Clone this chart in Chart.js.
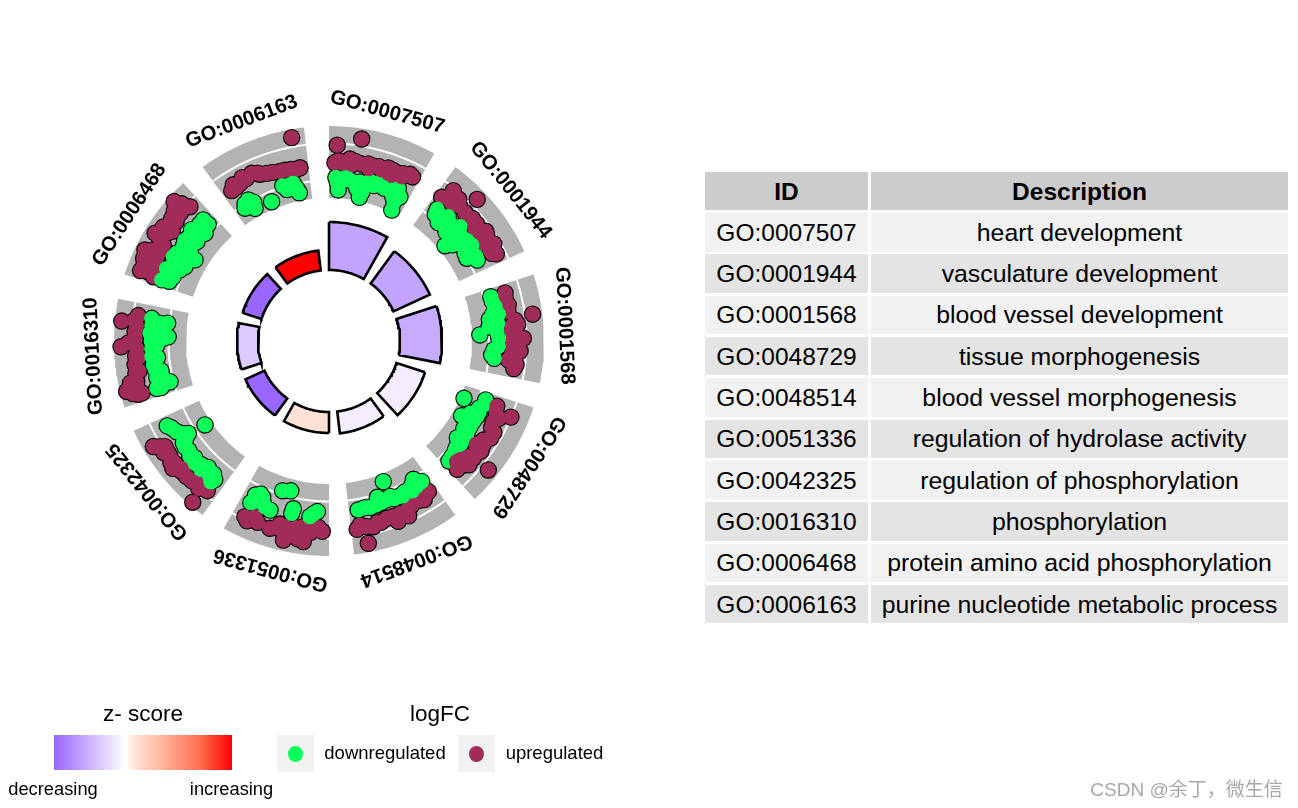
<!DOCTYPE html>
<html><head><meta charset="utf-8">
<script src="https://cdn.jsdelivr.net/npm/chart.js@4"></script>
<style>
html,body{margin:0;padding:0;background:#fff;width:1298px;height:808px;overflow:hidden;font-family:"Liberation Sans",Arial,sans-serif;color:#000}
#c{position:absolute;left:0;top:0}
.t{position:absolute;white-space:nowrap;line-height:1;transform:translate(-50%,-50%)}
.cell{position:absolute;display:flex;align-items:center;justify-content:center;font-size:24.5px;white-space:nowrap;padding-top:1px;box-sizing:border-box}
.key{position:absolute;background:#f2f2f2;width:37px;height:37px;top:735px}
.dot{position:absolute;left:11px;top:11px;width:15px;height:16px;border-radius:50%}
</style></head><body>
<canvas id="c" width="1298" height="808"></canvas>
<div id="overlay"></div>
<script>
const goIds=["GO:0007507","GO:0001944","GO:0001568","GO:0048729","GO:0048514","GO:0051336","GO:0042325","GO:0016310","GO:0006468","GO:0006163"];
const descriptions=["heart development","vasculature development","blood vessel development","tissue morphogenesis","blood vessel morphogenesis","regulation of hydrolase activity","regulation of phosphorylation","phosphorylation","protein amino acid phosphorylation","purine nucleotide metabolic process"];
const geneCounts=[48,40,42,30,22,21,21,21,20,20];
const zScores=[-0.6,-0.6,-0.55,-0.12,-0.12,0.25,-1,-0.35,-1,1];
// [degrees into the sector, logFC]
const up1=[[9.2,1.59],[2.4,1.11],[1.9,.13],[4.6,.13],[6.6,.40],[10.5,.22],[14.2,.25],[17.1,.17],[18.9,.39],[22.4,.30],[25.9,.52],[3,.25],[8.5,.3],[12.5,.3],[16,.3],[20.5,.35],[24,.4],[27,.45],[13,.05],[19.5,.1],[7.5,.1],[20.7,.08],[24,.2]];
const down1=[[2.4,-.68],[3.5,-1.37],[7.4,-.76],[11.9,-1.62],[11,-.78],[14.4,-.61],[17.8,-.5],[22.5,-.69],[26.2,-.86],[25.6,-1.71],[10.3,-1.17],[24.4,-.46],[5,-.8],[9,-.85],[13,-.85],[16,-.8],[20,-.75],[3,-.95],[12.5,-1.3],[23.8,-1],[25,-1.25],[19,-.7],[6,-.6]];
const up2=[[3.6,1.06],[2.1,.37],[10.3,1.61],[10.7,.61],[5.7,.47],[15.6,.69],[20.1,.78],[25.7,.49],[21.7,.37],[22.9,.56],[17.7,.63],[6.5,.9],[8,.65],[12.5,.5],[13.5,.7],[16.5,.45],[19,.5],[19,.85],[23.5,.85],[24.5,.5],[26.5,.7],[4,.75]];
const down2=[[3.4,-.31],[6.7,-.83],[14.6,-1.44],[21.2,-.79],[25.4,-.39],[12.7,-.58],[12.9,-.12],[20.1,-.22],[7.8,-.21],[9.4,-.73],[17.6,-.62],[5,-.5],[8,-.5],[10.5,-.4],[11,-.9],[13,-.85],[15,-.8],[16,-.4],[18,-.3],[19,-.65],[23,-.55],[24,-.35],[23,-.85],[16,-1.1],[4,-.6]];
const up3=[[2.7,.36],[6.6,.38],[10.5,1.63],[11.6,.62],[15.1,.39],[17.2,1.02],[20.3,.47],[25.3,.70],[24,.24],[4.5,.3],[8.5,.3],[13.5,.4],[13,.75],[16,.6],[19,.6],[22,.4],[21,.85],[23,.6],[26.5,.6],[18.5,.3]];
const down3=[[2.7,-.46],[6.3,-.36],[10.3,-.79],[15.7,-1.39],[14.8,-.44],[19.9,-.37],[22.9,-.71],[12.4,-.61],[4.5,-.45],[8.5,-.55],[9,-.25],[12,-.35],[17,-.35],[21,-.6],[24,-.55],[13,-.85]];
const up4=[[21,1.61],[4.7,1.18],[3.2,.22],[8.2,.39],[14.7,.41],[19.6,.46],[24.7,.38],[25.4,-.02],[21.7,.28],[5,.3],[6.5,.6],[10,.45],[11,.7],[13,.7],[16,.55],[17,.2],[18,.65],[21,.55],[23.5,.6],[27,.3],[24,.05]];
const down4=[[5,-1.63],[2.6,-.48],[11.4,-1.32],[7.2,-.55],[13.3,-.61],[18.3,-.64],[21.6,-.57],[25.3,-.41],[16.3,-.52],[4,-.4],[6,-.65],[9,-.55],[11,-.6],[15,-.6],[17.5,-.45],[20,-.5],[23,-.5],[27,-.35],[12,-.85],[15,-.85],[19,-.85],[9,-.95]];
const up5=[[25,1.67],[2.6,.25],[26.4,.59],[22.6,.83],[18,.58],[13.6,.58],[9.2,.43],[24.5,.75],[5,.5],[6.5,.4],[11,.55],[16,.6],[20,.7],[15,.95],[27.5,.8],[21,.65],[11.5,.9]];
const down5=[[26.2,-.25],[14.9,-1.4],[18.8,-.69],[12,-.31],[16.1,-.39],[8,-.4],[4.6,-.78],[2.6,-.42],[3.5,-.5],[6,-.55],[9.5,-.4],[10.5,-.25],[13.5,-.3],[14.5,-.5],[18,-.35],[20,-.3],[22,-.25],[24,-.3],[5,-.35],[7,-.25]];
const up6=[[25.6,1.04],[22.8,.81],[17.5,1.13],[12.9,1.57],[13.3,.82],[7.3,1.46],[7.9,.64],[3.3,.59],[24.5,1.2],[21.5,1.05],[15,1],[15,.75],[11,1],[9,1.35],[10,.75],[5.5,.9],[5.5,.6],[2,.8],[8,1],[12,1.3]];
const down6=[[17.2,-1.07],[14.3,-1.19],[25.8,.2],[24,-.47],[19.2,.17],[12.2,.02],[3.9,-.28],[6.2,.04],[24.5,0],[22,-.05],[21,.1],[25.5,-.3],[23,-.35],[12,-.25],[5,-.15]];
const up7=[[4.2,1.95],[3.1,.94],[6.6,.96],[12.4,1.16],[14.8,1.42],[18,1.14],[21.2,1.06],[23,1.61],[5.5,1.15],[8.5,1.1],[10.5,1.15],[13,1],[15.5,1.15],[16.5,1.3],[19.5,1.1],[20,1.3],[22,1.3]];
const down7=[[19.9,-1.46],[26.3,.37],[23.2,.07],[20.7,-.43],[17.7,.15],[11.6,.3],[7.7,-.07],[4,.43],[25,.2],[22,-.1],[19.5,-.1],[19,.1],[16,.1],[14.5,.25],[13,.1],[10,.1],[9,.3],[6,.2],[5,0],[3.5,.2]];
const up8=[[23.5,1.79],[25.6,.91],[20.7,1.01],[16.4,1.78],[15.8,.91],[11,1.08],[4,1.81],[2.4,1.22],[6,1.14],[24,1.1],[22.5,.95],[18.5,1],[17.5,1.35],[13.5,1],[8.5,1.1],[9,.9],[4.5,1.2],[3,1.5],[6,1.5],[19,1],[13,.85],[2.5,1]];
const down8=[[25.3,.15],[24.3,-.76],[20.5,.18],[19.5,-.84],[15.6,.08],[10.2,.07],[6.5,-.29],[3.6,-.66],[2.6,.15],[22,-.37],[23,.1],[22,-.2],[24,-.3],[21,-.6],[18,.1],[18.5,-.3],[19,-.6],[16.5,-.2],[13,.1],[8.5,0],[8,-.3],[6,0],[5,-.3],[4,-.55],[3,-.2],[2.5,-.1],[12.5,-.2]];
const up9=[[24,1.8],[26,.96],[18.5,1.21],[13.8,1.59],[8.3,1.63],[3.8,1.33],[2.1,.61],[10.5,.8],[22.6,1.11],[24,1.2],[22,1.45],[20,1.3],[20,1],[16.5,1.4],[16,1],[13,1.2],[12,.85],[9,1.3],[6,1.5],[6,1.05],[5,.8],[3,1],[2.5,1.4],[25,1.4],[8,.85],[17,.85]];
const down9=[[25.9,-.08],[23,-.66],[13.2,-1.08],[17,0],[10.4,.06],[4.4,-.42],[2.1,.11],[9.3,-.78],[26,-.45],[24,-.1],[21,.05],[21,-.4],[19,-.6],[18.5,-.1],[15.5,-.1],[15,-.6],[12.5,-.5],[12,0],[8,-.2],[7.5,-.6],[6,.1],[5.5,-.25],[3.5,-.1],[2.5,-.3]];
const up10=[[25.6,1.71],[25.3,-.07],[19.9,.02],[15.6,.16],[11.3,.48],[6.6,.28],[3.1,.17],[5,.2],[9,.35],[13.5,.25],[17.5,.1],[21.5,.02],[23.5,-.02],[26.5,-.02],[8,.5],[13,.35],[4.5,.4]];
const down10=[[13.6,-1.41],[19.4,-.79],[24.7,-1.38],[23.2,-.79],[6.2,-.75],[3.7,-1.05],[6.9,-1.34],[4.5,-.85],[7.5,-1],[21.5,-.85],[22,-1.05],[24,-1.1],[20.5,-1.05]];
const upByTerm=[up1,up2,up3,up4,up5,up6,up7,up8,up9,up10];
const downByTerm=[down1,down2,down3,down4,down5,down6,down7,down8,down9,down10];
const upOnTop=[true,false,false,true,false,false,false,false,false,false];

const UP='#a12c5a',DOWN='#0bff5a',GREY='#b3b3b3';
const STEP=36,SPAN=29.3,R_IN=71,PER_GENE=1,R0=176,PER_LOG=18,BAND_IN=143,BAND_OUT=215;
const polar=(deg,r)=>{const a=deg*Math.PI/180;return {x:r*Math.sin(a),y:r*Math.cos(a)}};
function arc(a0,a1,r){const p=[],n=24;for(let k=0;k<=n;k++)p.push(polar(a0+(a1-a0)*k/n,r));return p}
function ring(a0,a1,r0,r1){const o=arc(a0,a1,r1),i=arc(a1,a0,r0);return o.concat(i,[o[0]])}
function zColor(z){
  const neg=[[255,255,255],[153,102,255]];
  const pos=[[255,255,255],[255,225,214],[255,184,160],[255,110,78],[255,0,0]];
  const st=z<0?neg:pos,t=Math.abs(z)*(st.length-1),i=Math.min(Math.floor(t),st.length-2),f=t-i;
  const c=st[i].map((v,k)=>Math.round(v+(st[i+1][k]-v)*f));
  return `rgb(${c.join(',')})`;
}
const datasets=[];
const poly=(data,o)=>datasets.push(Object.assign({type:'scatter',showLine:true,data,tension:0,pointRadius:0,borderWidth:0,borderColor:'rgba(0,0,0,0)',fill:false,borderJoinStyle:'miter'},o));
goIds.forEach((id,i)=>{
  const a0=i*STEP,a1=a0+SPAN;
  poly(ring(a0,a1,BAND_IN,BAND_OUT),{backgroundColor:GREY,fill:'shape',order:100});
  [160.5,197.5].forEach(r=>poly(arc(a0,a1,r),{borderColor:'#fff',borderWidth:2,order:90}));
  poly(ring(a0,a1,R_IN,R_IN+geneCounts[i]*PER_GENE),{backgroundColor:zColor(zScores[i]),fill:'shape',borderColor:'#000',borderWidth:2.6,order:80});
});
const toXY=(i,arr)=>arr.map(([d,l])=>polar(i*STEP+d,R0+l*PER_LOG));
const allPts=[];
goIds.forEach((id,i)=>allPts.push(...toXY(i,upByTerm[i]),...toXY(i,downByTerm[i])));
datasets.push({type:'scatter',data:allPts,pointRadius:8.7,pointBackgroundColor:'#000',pointBorderWidth:0,order:70});
goIds.forEach((id,i)=>{
  const up={type:'scatter',data:toXY(i,upByTerm[i]),pointRadius:7.6,pointBackgroundColor:UP,pointBorderWidth:0,order:upOnTop[i]?60:61};
  const dn={type:'scatter',data:toXY(i,downByTerm[i]),pointRadius:7.6,pointBackgroundColor:DOWN,pointBorderWidth:0,order:upOnTop[i]?61:60};
  datasets.push(up,dn);
});
const goLabels={id:'goLabels',afterDatasetsDraw(ch){
  const {ctx,scales:{x,y}}=ch;
  ctx.save();ctx.font='bold 20.4px "Liberation Sans",Arial,sans-serif';ctx.fillStyle='#000';ctx.textAlign='center';ctx.textBaseline='middle';
  goIds.forEach((id,i)=>{
    const a=i*STEP+14.3,p=polar(a,236);
    ctx.save();ctx.translate(x.getPixelForValue(p.x),y.getPixelForValue(p.y));ctx.rotate((a+1)*Math.PI/180);ctx.fillText(id,0,0);ctx.restore();
  });
  ctx.restore();
}};
new Chart(document.getElementById('c'),{
  data:{datasets},
  plugins:[goLabels],
  options:{responsive:false,animation:false,events:[],
    layout:{padding:0,autoPadding:false},
    plugins:{legend:{display:false},tooltip:{enabled:false},title:{display:false}},
    scales:{x:{type:'linear',display:false,min:-329,max:969},y:{type:'linear',display:false,min:-467,max:341}}
  }
});
// table and legend
const ov=document.getElementById('overlay');
function el(cls,style,text){const d=document.createElement('div');d.className=cls;d.style.cssText=style;if(text)d.textContent=text;ov.appendChild(d);return d}
el('cell','left:705px;top:172px;width:163px;height:38px;background:#cccccc;font-weight:bold','ID');
el('cell','left:871px;top:172px;width:417px;height:38px;background:#cccccc;font-weight:bold','Description');
goIds.forEach((id,i)=>{
  const top=213+i*41.33,bg=i%2?'#e4e4e4':'#f1f1f1';
  el('cell',`left:705px;top:${top}px;width:163px;height:38.5px;background:${bg}`,id);
  el('cell',`left:871px;top:${top}px;width:417px;height:38.5px;background:${bg};font-size:24.8px`,descriptions[i]);
});
el('t','left:143px;top:714px;font-size:22.5px','z- score');
el('t','left:440px;top:714px;font-size:22.5px','logFC');
el('','position:absolute;left:54px;top:735px;width:178px;height:35px;background:linear-gradient(to right,#9966ff 0%,#ffffff 40%,#ffe1d6 46%,#ffb8a0 60%,#ff6e4e 82%,#ff0000 100%)');
el('t','left:53px;top:789px;font-size:18.3px','decreasing');
el('t','left:231.5px;top:789px;font-size:18.3px','increasing');
const k1=el('key','left:277px');const d1=document.createElement('div');d1.className='dot';d1.style.background=DOWN;k1.appendChild(d1);
const k2=el('key','left:458px');const d2=document.createElement('div');d2.className='dot';d2.style.background=UP;k2.appendChild(d2);
el('t','left:385px;top:753px;font-size:18.5px','downregulated');
el('t','left:554.5px;top:753px;font-size:18.5px','upregulated');
el('t','left:1186.5px;top:789px;font-size:19px;color:#a8a8a8;font-family:"Liberation Sans","Noto Sans CJK SC",sans-serif','CSDN @余丁，微生信');
</script>
</body></html>
